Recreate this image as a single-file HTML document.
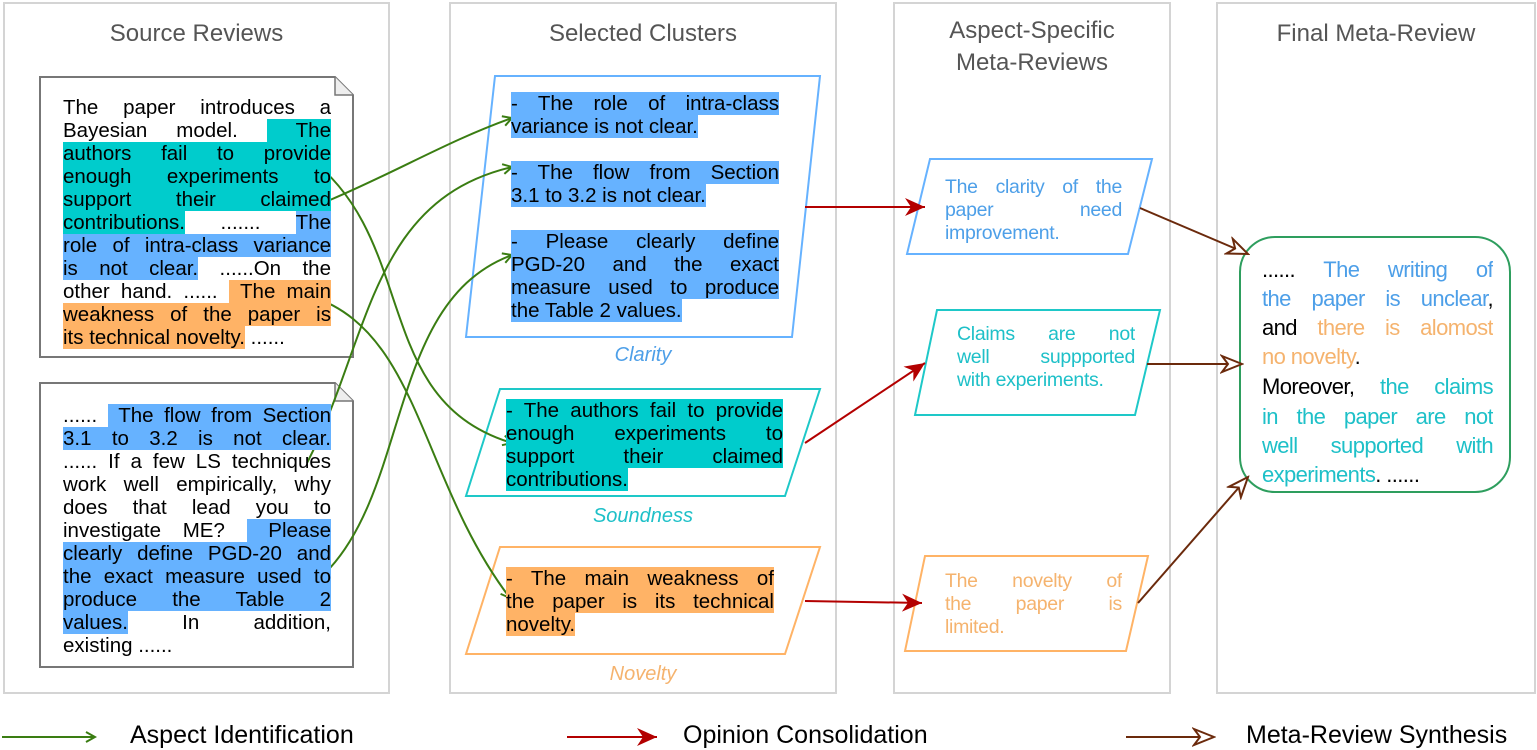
<!DOCTYPE html>
<html><head><meta charset="utf-8"><style>
body{margin:0;width:1537px;height:749px;background:#fff;position:relative;overflow:hidden;font-family:"Liberation Sans",sans-serif}
.p{position:absolute;border:2px solid #d4d4d4;box-sizing:border-box}
.t{position:absolute;color:#555;font-size:24px;text-align:center}
.l{position:absolute;height:23px;line-height:23px;font-size:20.5px;text-align:justify;text-align-last:justify;overflow:hidden;color:#000}
.B{background:#66b2ff}.T{background:#00cccc}.O{background:#ffb366}
.f{position:absolute;height:29px;line-height:29px;font-size:22px;text-align:justify;text-align-last:justify;overflow:hidden;letter-spacing:-0.6px;width:231px;left:1262px}
.cb{color:#4d9fe8}.co{color:#f5b36e}.ct{color:#1ec0c8}
.a{position:absolute;height:23px;line-height:23px;font-size:19.5px;text-align:justify;text-align-last:justify;overflow:hidden;letter-spacing:-0.3px}
.n{text-align-last:left !important}
.lab{position:absolute;font-style:italic;font-size:20px;text-align:center;width:200px}
.lg{position:absolute;top:721px;font-size:25px;color:#000}
</style></head><body>
<div class="p" style="left:3px;top:2px;width:387px;height:692px"></div>
<div class="p" style="left:449px;top:2px;width:388px;height:692px"></div>
<div class="p" style="left:893px;top:2px;width:278px;height:692px"></div>
<div class="p" style="left:1216px;top:2px;width:320px;height:692px"></div>
<div class="t" style="left:3px;top:20px;width:387px">Source Reviews</div>
<div class="t" style="left:449px;top:20px;width:388px">Selected Clusters</div>
<div class="t" style="left:893px;top:15px;width:278px;line-height:32px">Aspect-Specific<br>Meta-Reviews</div>
<div class="t" style="left:1216px;top:20px;width:320px">Final Meta-Review</div>

<svg style="position:absolute;left:0;top:0" width="1537" height="749">
<defs>
<marker id="g" markerWidth="12" markerHeight="12" refX="10" refY="6" orient="auto" markerUnits="userSpaceOnUse"><path d="M1,1 L10,6 L1,11" fill="none" stroke="#3a7d12" stroke-width="2"/></marker>
<marker id="r" markerWidth="22" markerHeight="18" refX="20" refY="9" orient="auto" markerUnits="userSpaceOnUse"><path d="M0,0 L20,9 L0,18 L6,9Z" fill="#b30000"/></marker>
<marker id="b" markerWidth="24" markerHeight="20" refX="22" refY="10" orient="auto" markerUnits="userSpaceOnUse"><path d="M2,2 L22,10 L2,18 L8,10Z" fill="#fff" stroke="#6b2a0c" stroke-width="2"/></marker>
</defs>
<path d="M40,77 H335 L353,95 V357 H40Z" fill="#fff" stroke="#777" stroke-width="2"/>
<path d="M335,77 V95 H353" fill="#eee" stroke="#777" stroke-width="1.5"/>
<path d="M40,383 H335 L353,401 V667 H40Z" fill="#fff" stroke="#777" stroke-width="2"/>
<path d="M335,383 V401 H353" fill="#eee" stroke="#777" stroke-width="1.5"/>
<polygon points="495,76 820,76 792,337 466,337" fill="none" stroke="#66b2ff" stroke-width="2"/>
<polygon points="500,389 820,389 785,496 466,496" fill="none" stroke="#1ec8c8" stroke-width="2"/>
<polygon points="500,547 820,547 785,654 466,654" fill="none" stroke="#ffb366" stroke-width="2"/>
<polygon points="930,159 1152,159 1128,254 907,254" fill="none" stroke="#66b2ff" stroke-width="2"/>
<polygon points="937,310 1160,310 1135,415 915,415" fill="none" stroke="#1ec8c8" stroke-width="2"/>
<polygon points="925,556 1148,556 1126,651 905,651" fill="none" stroke="#ffb366" stroke-width="2"/>
<rect x="1240" y="237" width="270" height="255" rx="35" fill="none" stroke="#2e9e5e" stroke-width="2"/>
<g stroke="#b30000" stroke-width="2" fill="none">
<line x1="805" y1="207" x2="925" y2="207" marker-end="url(#r)"/>
<line x1="805" y1="443" x2="925" y2="363" marker-end="url(#r)"/>
<line x1="805" y1="601" x2="922" y2="603" marker-end="url(#r)"/>
</g>
<g stroke="#6b2a0c" stroke-width="2" fill="none">
<line x1="1140" y1="208" x2="1248" y2="254" marker-end="url(#b)"/>
<line x1="1147" y1="364" x2="1242" y2="364" marker-end="url(#b)"/>
<line x1="1138" y1="603" x2="1248" y2="477" marker-end="url(#b)"/>
</g>
<g stroke="#3a7d12" stroke-width="2" fill="none">
<path d="M330,200 C400,170 450,140 512,118" marker-end="url(#g)"/>
<path d="M307,463 C370,340 370,200 512,167" marker-end="url(#g)"/>
<path d="M330,568 C410,480 390,300 512,255" marker-end="url(#g)"/>
<path d="M308,157 C420,240 370,400 512,443" marker-end="url(#g)"/>
<path d="M310,296 C420,330 420,480 510,598" marker-end="url(#g)"/>
<line x1="2" y1="737" x2="95" y2="737" marker-end="url(#g)"/>
</g>
<line x1="567" y1="737" x2="657" y2="737" stroke="#b30000" stroke-width="2" marker-end="url(#r)"/>
<line x1="1126" y1="737" x2="1214" y2="737" stroke="#6b2a0c" stroke-width="2" marker-end="url(#b)"/>
</svg>

<!-- doc 1 -->
<div class="l" style="left:63px;top:96px;width:268px">The paper introduces a</div>
<div class="l" style="left:63px;top:119px;width:268px">Bayesian model. <span class="T">&nbsp;The</span></div>
<div class="l T" style="left:63px;top:142px;width:268px">authors fail to provide</div>
<div class="l T" style="left:63px;top:165px;width:268px">enough experiments to</div>
<div class="l T" style="left:63px;top:188px;width:268px">support their claimed</div>
<div class="l" style="left:63px;top:211px;width:268px"><span class="T">contributions.</span> ....... <span class="B">The</span></div>
<div class="l B" style="left:63px;top:234px;width:268px">role of intra-class variance</div>
<div class="l" style="left:63px;top:257px;width:268px"><span class="B">is not clear.</span> ......On the</div>
<div class="l" style="left:63px;top:280px;width:268px">other hand. ...... <span class="O">&nbsp;The main</span></div>
<div class="l O" style="left:63px;top:303px;width:268px">weakness of the paper is</div>
<div class="l n" style="left:63px;top:326px;width:268px"><span class="O">its technical novelty.</span> ......</div>
<!-- doc 2 -->
<div class="l" style="left:63px;top:404px;width:268px">...... <span class="B">&nbsp;The flow from Section</span></div>
<div class="l B" style="left:63px;top:427px;width:268px">3.1 to 3.2 is not clear.</div>
<div class="l" style="left:63px;top:450px;width:268px">...... If a few LS techniques</div>
<div class="l" style="left:63px;top:473px;width:268px">work well empirically, why</div>
<div class="l" style="left:63px;top:496px;width:268px">does that lead you to</div>
<div class="l" style="left:63px;top:519px;width:268px">investigate ME? <span class="B">&nbsp;Please</span></div>
<div class="l B" style="left:63px;top:542px;width:268px">clearly define PGD-20 and</div>
<div class="l B" style="left:63px;top:565px;width:268px">the exact measure used to</div>
<div class="l B" style="left:63px;top:588px;width:268px">produce the Table 2</div>
<div class="l" style="left:63px;top:611px;width:268px"><span class="B">values.</span> In addition,</div>
<div class="l n" style="left:63px;top:634px;width:268px">existing ......</div>
<!-- clarity cluster -->
<div class="l B" style="left:511px;top:92px;width:268px">- The role of intra-class</div>
<div class="l n" style="left:511px;top:115px;width:268px"><span class="B">variance is not clear.</span></div>
<div class="l B" style="left:511px;top:161px;width:268px">- The flow from Section</div>
<div class="l n" style="left:511px;top:184px;width:268px"><span class="B">3.1 to 3.2 is not clear.</span></div>
<div class="l B" style="left:511px;top:230px;width:268px">- Please clearly define</div>
<div class="l B" style="left:511px;top:253px;width:268px">PGD-20 and the exact</div>
<div class="l B" style="left:511px;top:276px;width:268px">measure used to produce</div>
<div class="l n" style="left:511px;top:299px;width:268px"><span class="B">the Table 2 values.</span></div>
<div class="lab" style="left:543px;top:344px;color:#4d9fe8">Clarity</div>
<!-- soundness -->
<div class="l T" style="left:506px;top:399px;width:277px">- The authors fail to provide</div>
<div class="l T" style="left:506px;top:422px;width:277px">enough experiments to</div>
<div class="l T" style="left:506px;top:445px;width:277px">support their claimed</div>
<div class="l n" style="left:506px;top:468px;width:277px"><span class="T">contributions.</span></div>
<div class="lab" style="left:543px;top:505px;color:#1ec0c8">Soundness</div>
<!-- novelty -->
<div class="l O" style="left:506px;top:567px;width:268px">- The main weakness of</div>
<div class="l O" style="left:506px;top:590px;width:268px">the paper is its technical</div>
<div class="l n" style="left:506px;top:613px;width:268px"><span class="O">novelty.</span></div>
<div class="lab" style="left:543px;top:663px;color:#f5b36e">Novelty</div>
<!-- aspect meta reviews -->
<div class="a cb" style="left:945px;top:176px;width:177px">The clarity of the</div>
<div class="a cb" style="left:945px;top:199px;width:177px">paper need</div>
<div class="a cb n" style="left:945px;top:222px;width:177px">improvement.</div>
<div class="a ct" style="left:957px;top:323px;width:178px">Claims are not</div>
<div class="a ct" style="left:957px;top:346px;width:178px">well suppported</div>
<div class="a ct n" style="left:957px;top:369px;width:178px">with experiments.</div>
<div class="a co" style="left:945px;top:570px;width:177px">The novelty of</div>
<div class="a co" style="left:945px;top:593px;width:177px">the paper is</div>
<div class="a co n" style="left:945px;top:616px;width:177px">limited.</div>
<!-- final -->
<div class="f" style="top:255px">...... <span class="cb">The writing of</span></div>
<div class="f" style="top:284px"><span class="cb">the paper is unclear</span>,</div>
<div class="f" style="top:313px">and <span class="co">there is alomost</span></div>
<div class="f n" style="top:342px"><span class="co">no novelty</span>.</div>
<div class="f" style="top:372px">Moreover, <span class="ct">the claims</span></div>
<div class="f ct" style="top:402px">in the paper are not</div>
<div class="f ct" style="top:431px">well supported with</div>
<div class="f n" style="top:460px"><span class="ct">experiments</span>. ......</div>
<!-- legend -->
<div class="lg" style="left:130px">Aspect Identification</div>
<div class="lg" style="left:683px">Opinion Consolidation</div>
<div class="lg" style="left:1246px">Meta-Review Synthesis</div>
</body></html>
